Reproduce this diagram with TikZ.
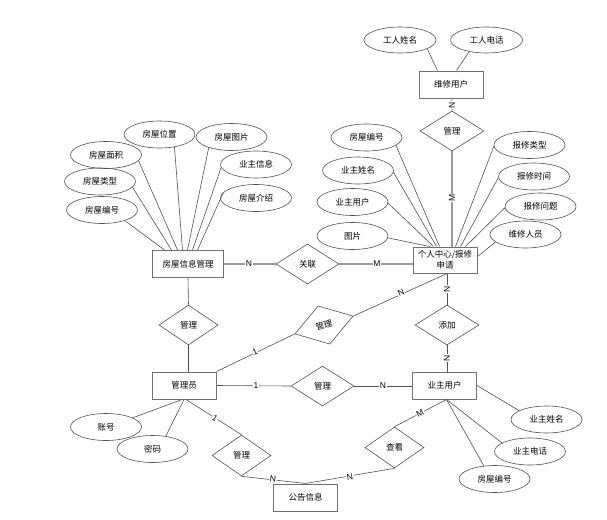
\documentclass[tikz,border=0pt]{standalone}
\usepackage{fontspec}
\setmainfont{Noto Sans CJK SC}
\newfontfamily\labfont{Liberation Sans}
\usetikzlibrary{shapes.geometric,calc}
\definecolor{lnc}{HTML}{505050}
\definecolor{bdc}{HTML}{707070}
\definecolor{tkc}{HTML}{9A9A9A}
\begin{document}
\begin{tikzpicture}[x=1pt,y=-1pt,
  every node/.style={font=\fontsize{8.5}{11}\selectfont, text=black},
  ent/.style={draw=bdc, line width=1pt, rectangle, minimum width=64pt, minimum height=27pt, inner sep=0pt, fill=white},
  attr/.style={draw=lnc, line width=0.6pt, ellipse, minimum width=71pt, minimum height=27pt, inner sep=0pt},
  rel/.style={draw=lnc, line width=0.6pt, diamond, minimum width=63pt, minimum height=40pt, inner sep=0pt},
  cn/.style={draw=lnc, line width=0.6pt},
  thk/.style={draw=tkc, line width=1.4pt},
  card/.style={font=\labfont\fontsize{8.5}{10}\selectfont, fill=white, inner sep=0.6pt},
]
\useasboundingbox[fill=white] (0,0) rectangle (607,519);

% entities
\node[ent] (wx) at (451,84.5) {维修用户};
\node[ent, minimum width=71pt] (fw) at (188,264) {房屋信息管理};
\node[ent, minimum height=26pt, align=center] (gr) at (445,260) {个人中心/报修\\申请};
\node[ent] (gly) at (184,385.5) {管理员};
\node[ent] (yz) at (444.5,385.5) {业主用户};
\node[ent] (gg) at (305.5,497.5) {公告信息};

% relations
\node[rel, minimum width=64pt] (r1) at (452,131) {管理};
\node[rel] (r2) at (307.5,264) {关联};
\node[rel, minimum width=59pt] (r3) at (188.5,325) {管理};
\node[rel, minimum width=61pt, rotate=17] (r4) at (324,325) {管理};
\node[rel, minimum width=64pt] (r5) at (447,325) {添加};
\node[rel] (r6) at (322.5,386) {管理};
\node[rel, minimum width=59pt, minimum height=41pt] (r7) at (241.5,455.5) {管理};
\node[rel, minimum width=59pt, minimum height=41pt] (r8) at (394.5,447.5) {查看};

% attributes
\node[attr, minimum width=72pt, minimum height=26pt] (a1) at (400,40) {工人姓名};
\node[attr, minimum width=72pt, minimum height=26pt] (a2) at (486.5,40) {工人电话};
\node[attr] (b1) at (159.5,134.5) {房屋位置};
\node[attr] (b2) at (231.5,137) {房屋图片};
\node[attr] (b3) at (106,155) {房屋面积};
\node[attr] (b4) at (256,164.5) {业主信息};
\node[attr] (b5) at (100,181.5) {房屋类型};
\node[attr] (b6) at (102,210) {房屋编号};
\node[attr] (b7) at (256,198) {房屋介绍};
\node[attr] (c1) at (366.5,137.5) {房屋编号};
\node[attr] (c2) at (358,170.5) {业主姓名};
\node[attr] (c3) at (352.5,202) {业主用户};
\node[attr] (c4) at (352.5,236) {图片};
\node[attr] (c5) at (529.5,145) {报修类型};
\node[attr] (c6) at (534,176.5) {报修时间};
\node[attr] (c7) at (540.5,206.5) {报修问题};
\node[attr] (c8) at (525.5,234.5) {维修人员};
\node[attr] (d1) at (106,427) {账号};
\node[attr] (d2) at (152.5,449) {密码};
\node[attr] (e1) at (546.5,419.5) {业主姓名};
\node[attr] (e2) at (530,451.5) {业主电话};
\node[attr] (e3) at (494.5,479) {房屋编号};

% attribute connectors
\draw[cn] (a1.-18) -- ($(wx.north west)+(19,0)$);
\draw[cn] (a2.214) -- ($(wx.north west)+(38,0)$);
\draw[cn] (b6.-25) -- ($(fw.north west)+(12.5,0)$);
\draw[cn] (b5.-10) -- ($(fw.north west)+(19.5,0)$);
\draw[cn] (b3.-10) -- ($(fw.north west)+(25.5,0)$);
\draw[cn] (b1.-40) -- ($(fw.north west)+(30.5,0)$);
\draw[cn] (b2.-155) -- ($(fw.north west)+(35.5,0)$);
\draw[cn] (b4.185) -- ($(fw.north west)+(40.5,0)$);
\draw[cn] (b7.170) -- ($(fw.north west)+(45.5,0)$);
\draw[cn] (c4.-3) -- ($(gr.north west)+(17,0)$);
\draw[cn] (c3.-2) -- ($(gr.north west)+(21,0)$);
\draw[cn] (c2.-3) -- ($(gr.north west)+(24,0)$);
\draw[cn] (c1.-15) -- ($(gr.north west)+(27,0)$);
\draw[cn] (c5.182) -- ($(gr.north west)+(43,0)$);
\draw[cn] (c6.182) -- ($(gr.north west)+(48,0)$);
\draw[cn] (c7.182) -- ($(gr.north west)+(53,0)$);
\draw[cn] (c8.194) -- ($(gr.north east)+(0,10)$);
\draw[cn] (d1.19) -- ($(gly.south)+(-2,0)$);
\draw[cn] (d2.44) -- ($(gly.south)+(0,0)$);
\draw[cn] (e1.162) -- ($(yz.north east)+(0,14)$);
\draw[cn] (e2.163) -- ($(yz.south)+(2,0)$);
\draw[cn] (e3.129) -- ($(yz.south)+(2,0)$);

% relation connectors
\draw[cn] (wx.south) -- (r1.north);
\draw[thk] (r1.south) -- (r1.south |- gr.north);
\draw[thk] (fw.east) -- (r2.west);
\draw[thk] (r2.east) -- (r2.east -| gr.west);
\draw[cn] (fw.south) -- (r3.north);
\draw[cn] (r3.south) -- (r3.south |- gly.north);
\draw[cn] (gly.north east) -- (r4.west);
\draw[cn] (r4.east) -- (r5.north |- gr.south);
\draw[cn] (r5.north) -- (r5.north |- gr.south);
\draw[cn] (r5.south) -- (r5.south |- yz.north);
\draw[cn] (gly.east) -- (r6.west);
\draw[cn] (r6.east) -- (r6.east -| yz.west);
\draw[cn] ($(gly.south)+(2,0)$) -- (r7.north);
\draw[cn] (r7.south) -- (gg.north);
\draw[cn] (r8.south) -- (gg.north);
\draw[cn] (r8.north) -- ($(yz.south)+(2,0)$);

% cardinalities
\node[card, rotate=90] (k1) at (452,105) {N};
\node[card, rotate=90] (k2) at (452,198) {M};
\node[card] (k3) at (249,264) {N};
\node[card] (k4) at (377,264) {M};
\node[card, rotate=25] (k5) at (255,352) {1};
\node[card, rotate=24] (k6) at (401,293) {N};
\node[card, rotate=90] (k7) at (447,289) {N};
\node[card, rotate=90] (k8) at (447,358) {N};
\node[card] (k9) at (256,386) {1};
\node[card] (k10) at (383,386) {N};
\node[card, rotate=-33] (k11) at (215,418) {1};
\node[card, rotate=-6] (k12) at (273,479) {N};
\node[card, rotate=10] (k13) at (350,477) {N};
\node[card, rotate=27] (k14) at (420,413) {M};
\end{tikzpicture}
\end{document}
